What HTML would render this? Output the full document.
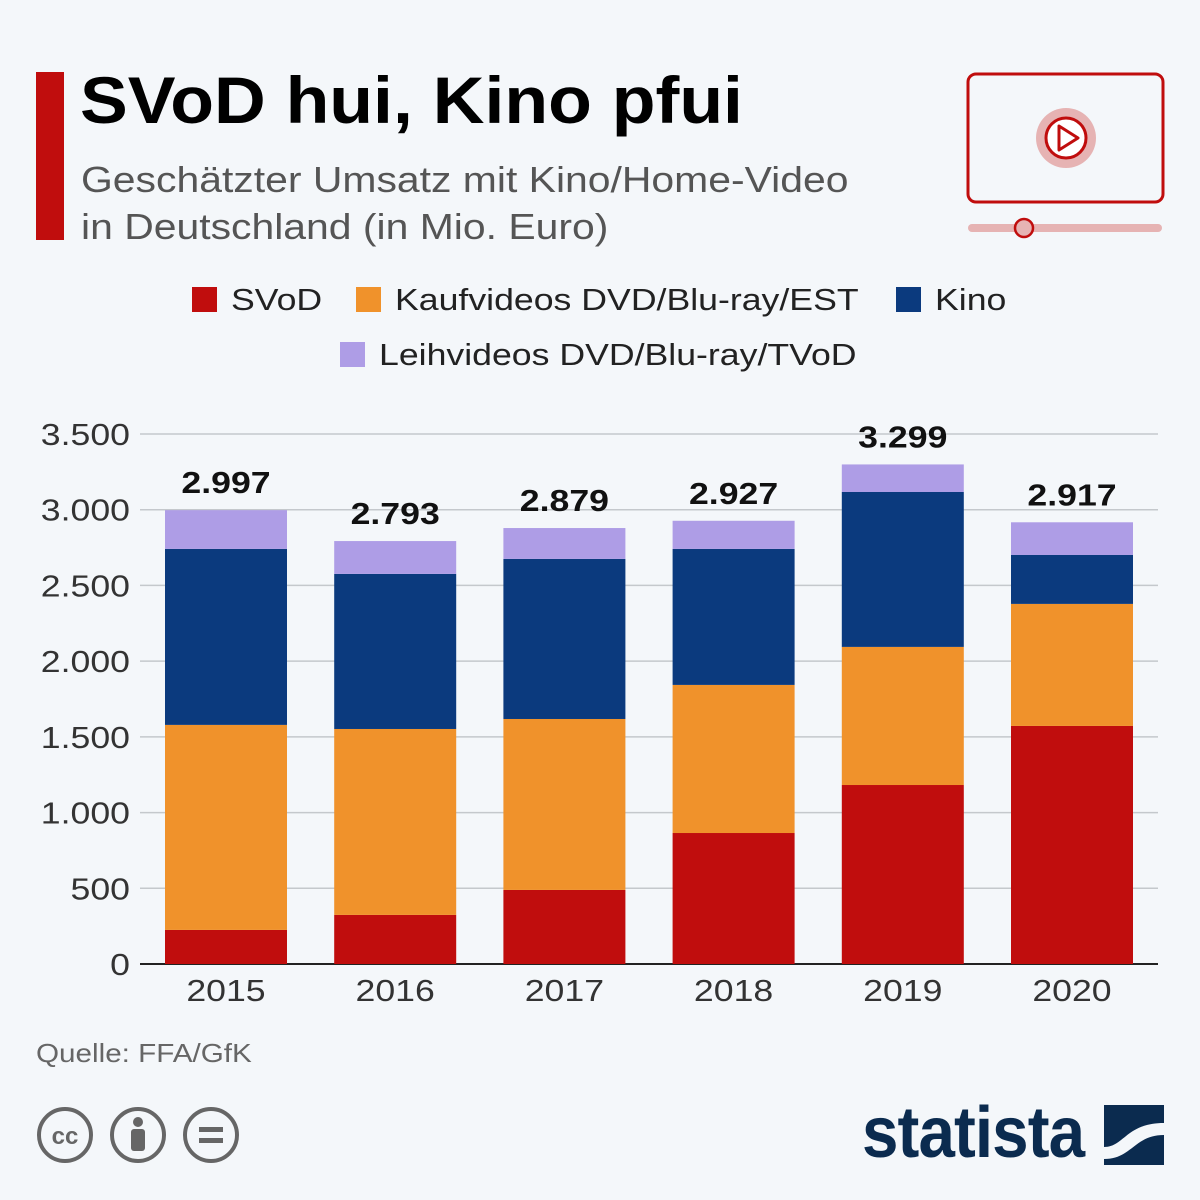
<!DOCTYPE html>
<html><head><meta charset="utf-8"><style>
body{margin:0;width:1200px;height:1200px;background:#f4f7fa;font-family:"Liberation Sans","DejaVu Sans",sans-serif;position:relative;overflow:hidden}
.abs{position:absolute}
.w{transform-origin:0 0;white-space:nowrap}
</style></head><body>
<div class="abs" style="left:36px;top:72px;width:28px;height:168px;background:#c00d0d"></div>
<div class="abs w" style="left:80px;top:62px;font-size:66px;font-weight:bold;color:#000;transform:scaleX(1.085)">SVoD hui, Kino pfui</div>
<div class="abs w" style="left:81px;top:156px;font-size:36px;line-height:47px;color:#555;transform:scaleX(1.136)">Geschätzter Umsatz mit Kino/Home-Video<br>in Deutschland (in Mio. Euro)</div>
<svg class="abs" style="left:960px;top:66px" width="210" height="180">
<rect x="8" y="8" width="195" height="128" rx="8" fill="none" stroke="#c00d0d" stroke-width="3"/>
<circle cx="106" cy="72" r="30" fill="#e6b3b3"/><circle cx="106" cy="72" r="20" fill="#fff" stroke="#c00d0d" stroke-width="3"/>
<path d="M99 60 L118 72 L99 84 Z" fill="none" stroke="#c00d0d" stroke-width="3" stroke-linejoin="round"/>
<line x1="12" y1="162" x2="198" y2="162" stroke="#e6b3b3" stroke-width="8" stroke-linecap="round"/>
<circle cx="64" cy="162" r="9" fill="#e6b3b3" stroke="#c00d0d" stroke-width="2.5"/>
</svg>
<svg class="abs" style="left:0;top:0" width="1200" height="1200" id="chart"></svg>
<div class="abs w" style="left:36px;top:1038px;font-size:26px;color:#666;transform:scaleX(1.14)">Quelle: FFA/GfK</div>
<svg class="abs" style="left:34px;top:1105px" width="210" height="60">
<g fill="none" stroke="#666" stroke-width="4"><circle cx="31" cy="30" r="26"/><circle cx="104" cy="30" r="26"/><circle cx="177" cy="30" r="26"/></g>
<text x="31" y="39" font-size="24" font-weight="bold" fill="#666" text-anchor="middle" font-family="Liberation Sans">cc</text>
<circle cx="104" cy="17" r="5" fill="#666"/><rect x="97" y="24" width="14" height="22" rx="3" fill="#666"/>
<rect x="165" y="22" width="24" height="5" fill="#666"/><rect x="165" y="33" width="24" height="5" fill="#666"/>
</svg>
<div class="abs w" style="left:862px;top:1092px;font-size:72px;font-weight:bold;color:#0b2b4f;letter-spacing:-1px;transform:scaleX(0.91)">statista</div>
<svg class="abs" style="left:1104px;top:1105px" width="60" height="60">
<rect width="60" height="60" fill="#0b2b4f"/><path d="M0 42 C20 42 22 18 60 18 L60 30 C30 30 28 54 0 54 Z" fill="#f4f7fa"/>
</svg>
<script>
const years=["2015","2016","2017","2018","2019","2020"];
const svod=[225,324,489,865,1182,1572];
const kauf=[1354,1228,1129,978,912,806];
const kino=[1162,1024,1057,898,1023,323];
const leih=[256,217,204,186,182,216];
const totals=["2.997","2.793","2.879","2.927","3.299","2.917"];
const yTicks=[0,500,1000,1500,2000,2500,3000,3500];
const yTickLabels=["0","500","1.000","1.500","2.000","2.500","3.000","3.500"];
const seriesNames=["SVoD","Kaufvideos DVD/Blu-ray/EST","Kino","Leihvideos DVD/Blu-ray/TVoD"];
const colors=["#c00d0d","#f0922b","#0b3a7e","#ae9de6"];
const NS="http://www.w3.org/2000/svg",svg=document.getElementById('chart');
const y=v=>964-v*530/3500, x=i=>226+i*169.2, bw=122;
function mk(t,a,txt){const e=document.createElementNS(NS,t);for(const k in a)e.setAttribute(k,a[k]);if(txt!==undefined)e.textContent=txt;svg.appendChild(e);
 if(t==='text'){const L=e.getComputedTextLength();if(L>0){e.setAttribute('textLength',L*1.15);e.setAttribute('lengthAdjust','spacingAndGlyphs');}}
 return e;}
yTicks.forEach((t,i)=>{
 const l=mk('line',{x1:140,x2:1158,y1:y(t),y2:y(t),stroke:t?'#c4c8cc':'#222','stroke-width':t?1.5:2});
 
 
 const tx=mk('text',{x:130,y:y(t)+11,'font-size':31,fill:'#333','text-anchor':'end','font-family':'Liberation Sans'},yTickLabels[i]);
 
 
});
const series=[svod,kauf,kino,leih];
years.forEach((yr,i)=>{
 let c=0;
 series.forEach((s,j)=>{
  const r=mk('rect',{x:x(i)-bw/2,y:y(c+s[i]),width:bw,height:y(c)-y(c+s[i]),fill:colors[j]});
  
  
  c+=s[i];
 });
 const tl=mk('text',{x:x(i),y:y(c)-17,'font-size':31,'font-weight':'bold',fill:'#111','text-anchor':'middle','font-family':'Liberation Sans'},totals[i]);
 
 
 const xl=mk('text',{x:x(i),y:1001,'font-size':31,fill:'#333','text-anchor':'middle','font-family':'Liberation Sans'},yr);
 
 
});
const lg=[[192,299],[356,299],[896,299],[340,354]];
seriesNames.forEach((n,j)=>{
 const r=mk('rect',{x:lg[j][0],y:lg[j][1]-12,width:25,height:25,fill:colors[j]});
 
 
 const t=mk('text',{x:lg[j][0]+39,y:lg[j][1]+11,'font-size':31,fill:'#222','font-family':'Liberation Sans'},n);
 
 
});
</script>
</body></html>
